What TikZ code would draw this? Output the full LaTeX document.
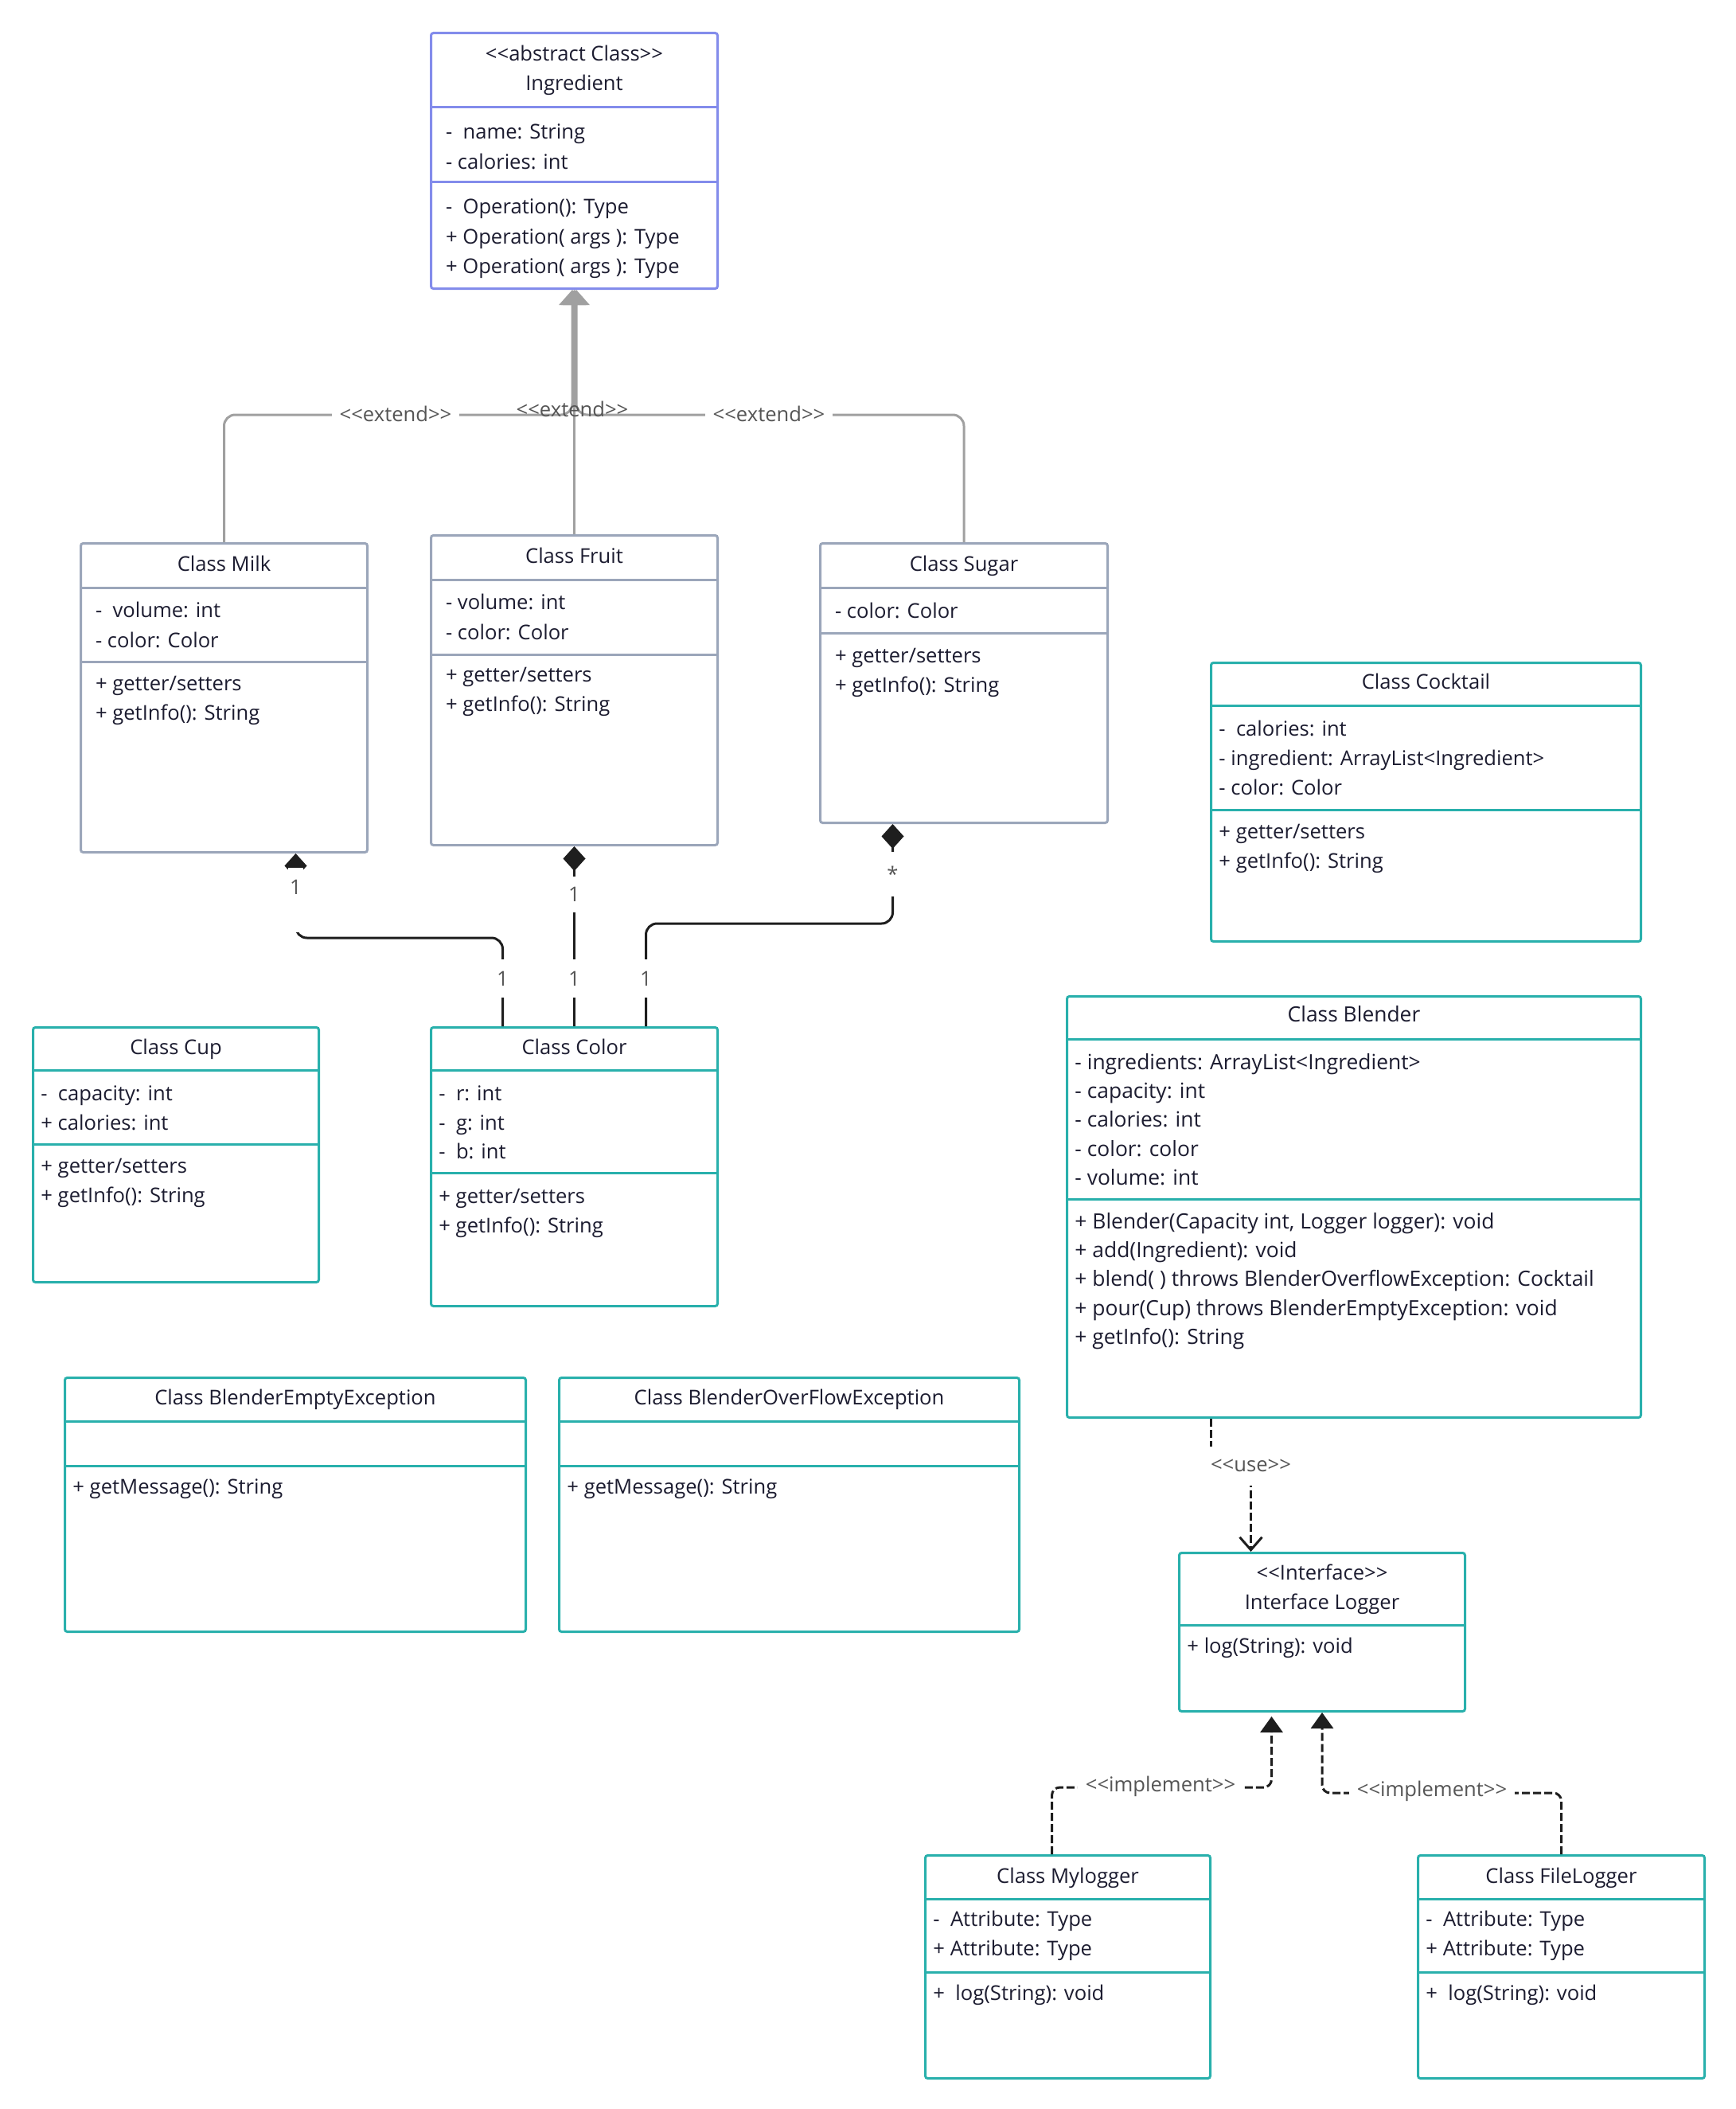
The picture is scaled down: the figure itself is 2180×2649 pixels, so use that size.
\documentclass[tikz,border=0pt]{standalone}
\usepackage{fontspec}
\setmainfont{Open Sans}[Ligatures=TeXOff]
\usepackage{xcolor}
\usepackage{tikz}
\usetikzlibrary{arrows.meta,calc}
\definecolor{ingrBlue}{HTML}{838CEB}
\definecolor{milkGrey}{HTML}{9BA6BA}
\definecolor{cupTeal}{HTML}{29B0AC}
\definecolor{extGrey}{HTML}{A0A0A0}
\definecolor{textNavy}{HTML}{1C1C30}
\definecolor{labelGrey}{HTML}{555555}
\definecolor{lineBlack}{HTML}{1E1E1E}
\tikzstyle{block} = [rectangle, draw, anchor = north west, line width = 1.5pt, rounded corners = 1.5pt, fill = white]
\tikzstyle{blockIngr} = [block, draw = ingrBlue]
\tikzstyle{blockGrey} = [block, draw = milkGrey]
\tikzstyle{blockTeal} = [block, draw = cupTeal]
\tikzstyle{divIngr} = [draw = ingrBlue, line width = 1.5pt]
\tikzstyle{divGrey} = [draw = milkGrey, line width = 1.5pt]
\tikzstyle{divTeal} = [draw = cupTeal, line width = 1.5pt]
\tikzstyle{header} = [text = textNavy, align = center, text height = 9.5pt, text depth = 2.7pt, font = \fontsize{12.8}{18.5}\selectfont]
\tikzstyle{headerTwo} = [text = textNavy, align = center, font = \fontsize{12.8}{18.5}\selectfont]
\tikzstyle{member} = [text = textNavy, anchor = west, align = left, xshift = 2.2pt, font = \fontsize{12.8}{18.3}\selectfont]
\tikzstyle{memberWide} = [text = textNavy, anchor = west, align = left, xshift = 6.5pt, font = \fontsize{12.8}{18.8}\selectfont]
\tikzstyle{extline} = [draw = extGrey, line width = 1.5pt, rounded corners = 7pt, -{Triangle[length = 9.5pt, width = 16.5pt]}]
\tikzstyle{compline} = [draw = lineBlack, line width = 1.5pt, rounded corners = 7pt, {Diamond[length = 15.5pt, width = 14pt]}-]
\tikzstyle{useline} = [draw = lineBlack, line width = 1.5pt, dash pattern = on 5pt off 2pt, -{Straight Barb[length = 8pt, width = 14pt]}]
\tikzstyle{implline} = [draw = lineBlack, line width = 1.5pt, dash pattern = on 5pt off 2pt, rounded corners = 5pt, -{Triangle[length = 10pt, width = 14pt]}]
\tikzstyle{relLabel} = [fill = white, text = labelGrey, font = \fontsize{12.8}{15}\selectfont]
\tikzstyle{multLabel} = [relLabel, inner sep = 1pt]
\begin{document}
\begin{tikzpicture}[x = 0.5pt, y = -0.5pt]
        \path[use as bounding box, fill = white] (0,0) rectangle (2180,2649);
        % class boxes
        \node(ingr) [blockIngr, minimum width = 180pt, minimum height = 160.5pt] at (540,40) {};
        \node(milk) [blockGrey, minimum width = 180pt, minimum height = 194pt] at (100,681) {};
        \node(fruit) [blockGrey, minimum width = 180pt, minimum height = 194.5pt] at (540,671) {};
        \node(sugar) [blockGrey, minimum width = 180.5pt, minimum height = 175.5pt] at (1029,681) {};
        \node(cocktail) [blockTeal, minimum width = 270pt, minimum height = 175pt] at (1520,831) {};
        \node(blender) [blockTeal, minimum width = 360.5pt, minimum height = 264.5pt] at (1339,1250) {};
        \node(cup) [blockTeal, minimum width = 179.5pt, minimum height = 160pt] at (40,1289) {};
        \node(color) [blockTeal, minimum width = 180pt, minimum height = 175pt] at (540,1289) {};
        \node(emptyEx) [blockTeal, minimum width = 289.5pt, minimum height = 159.5pt] at (80,1729) {};
        \node(overEx) [blockTeal, minimum width = 289pt, minimum height = 159.5pt] at (701,1729) {};
        \node(logger) [blockTeal, minimum width = 179.5pt, minimum height = 99.5pt] at (1480,1949) {};
        \node(myLogger) [blockTeal, minimum width = 179pt, minimum height = 140pt] at (1161,2329) {};
        \node(fileLogger) [blockTeal, minimum width = 180pt, minimum height = 140pt] at (1780,2329) {};
        % compartments
        \draw[divIngr] (ingr.west |- 0,135) -- (ingr.east |- 0,135);
        \draw[divIngr] (ingr.west |- 0,229) -- (ingr.east |- 0,229);
        \draw[divGrey] (milk.west |- 0,738) -- (milk.east |- 0,738);
        \draw[divGrey] (milk.west |- 0,831) -- (milk.east |- 0,831);
        \draw[divGrey] (fruit.west |- 0,728) -- (fruit.east |- 0,728);
        \draw[divGrey] (fruit.west |- 0,822) -- (fruit.east |- 0,822);
        \draw[divGrey] (sugar.west |- 0,738) -- (sugar.east |- 0,738);
        \draw[divGrey] (sugar.west |- 0,795) -- (sugar.east |- 0,795);
        \draw[divTeal] (cocktail.west |- 0,886) -- (cocktail.east |- 0,886);
        \draw[divTeal] (cocktail.west |- 0,1017) -- (cocktail.east |- 0,1017);
        \draw[divTeal] (blender.west |- 0,1305) -- (blender.east |- 0,1305);
        \draw[divTeal] (blender.west |- 0,1506) -- (blender.east |- 0,1506);
        \draw[divTeal] (cup.west |- 0,1344) -- (cup.east |- 0,1344);
        \draw[divTeal] (cup.west |- 0,1437) -- (cup.east |- 0,1437);
        \draw[divTeal] (color.west |- 0,1344) -- (color.east |- 0,1344);
        \draw[divTeal] (color.west |- 0,1473) -- (color.east |- 0,1473);
        \draw[divTeal] (emptyEx.west |- 0,1785) -- (emptyEx.east |- 0,1785);
        \draw[divTeal] (emptyEx.west |- 0,1841) -- (emptyEx.east |- 0,1841);
        \draw[divTeal] (overEx.west |- 0,1785) -- (overEx.east |- 0,1785);
        \draw[divTeal] (overEx.west |- 0,1841) -- (overEx.east |- 0,1841);
        \draw[divTeal] (logger.west |- 0,2041) -- (logger.east |- 0,2041);
        \draw[divTeal] (myLogger.west |- 0,2385) -- (myLogger.east |- 0,2385);
        \draw[divTeal] (myLogger.west |- 0,2477) -- (myLogger.east |- 0,2477);
        \draw[divTeal] (fileLogger.west |- 0,2385) -- (fileLogger.east |- 0,2385);
        \draw[divTeal] (fileLogger.west |- 0,2477) -- (fileLogger.east |- 0,2477);
        % texts
        \node(ingrHead) [headerTwo] at (ingr.north |- 0,88.5) {<<abstract Class>>\\Ingredient};
        \node(ingrAttr) [memberWide] at (ingr.west |- 0,184) {-\ \ name: String\\- calories: int};
        \node(ingrOps) [memberWide] at (ingr.west |- 0,300) {-\ \ Operation(): Type\\+ Operation( args ): Type\\+ Operation( args ): Type};
        \node(milkHead) [header] at (milk.north |- 0,711) {Class Milk};
        \node(milkAttr) [memberWide] at (milk.west |- 0,785) {-\ \ volume: int\\- color: Color};
        \node(milkOps) [memberWide] at (milk.west |- 0,880) {+ getter/setters\\+ getInfo(): String};
        \node(fruitHead) [header] at (fruit.north |- 0,701) {Class Fruit};
        \node(fruitAttr) [memberWide] at (fruit.west |- 0,775) {- volume: int\\- color: Color};
        \node(fruitOps) [memberWide] at (fruit.west |- 0,869) {+ getter/setters\\+ getInfo(): String};
        \node(sugarHead) [header] at (sugar.north |- 0,711) {Class Sugar};
        \node(sugarAttr) [memberWide] at (sugar.west |- 0,767) {- color: Color};
        \node(sugarOps) [memberWide] at (sugar.west |- 0,845) {+ getter/setters\\+ getInfo(): String};
        \node(cocktailHead) [header] at (cocktail.north |- 0,859) {Class Cocktail};
        \node(cocktailAttr) [member] at (cocktail.west |- 0,952) {-\ \ calories: int\\- ingredient: ArrayList<Ingredient>\\- color: Color};
        \node(cocktailOps) [member] at (cocktail.west |- 0,1066) {+ getter/setters\\+ getInfo(): String};
        \node(blenderHead) [header, font = \fontsize{13.2}{18.2}\selectfont] at (blender.north |- 0,1277) {Class Blender};
        \node(blenderAttr) [member, font = \fontsize{13.2}{18.2}\selectfont] at (blender.west |- 0,1406) {- ingredients: ArrayList<Ingredient>\\- capacity: int\\- calories: int\\- color: color\\- volume: int};
        \node(blenderOps) [member, font = \fontsize{13.2}{18.2}\selectfont] at (blender.west |- 0,1609) {+ Blender(Capacity int, Logger logger): void\\+ add(Ingredient): void\\+ blend( ) throws BlenderOverflowException: Cocktail\\+ pour(Cup) throws BlenderEmptyException: void\\+ getInfo(): String};
        \node(cupHead) [header] at (cup.north |- 0,1318) {Class Cup};
        \node(cupAttr) [member] at (cup.west |- 0,1392) {-\ \ capacity: int\\+ calories: int};
        \node(cupOps) [member] at (cup.west |- 0,1486) {+ getter/setters\\+ getInfo(): String};
        \node(colorHead) [header] at (color.north |- 0,1318) {Class Color};
        \node(colorAttr) [member] at (color.west |- 0,1410) {-\ \ r: int\\-\ \ g: int\\-\ \ b: int};
        \node(colorOps) [member] at (color.west |- 0,1524) {+ getter/setters\\+ getInfo(): String};
        \node(emptyExHead) [header] at (emptyEx.north |- 0,1758) {Class BlenderEmptyException};
        \node(emptyExOps) [member] at (emptyEx.west |- 0,1870) {+ getMessage(): String};
        \node(overExHead) [header] at (overEx.north |- 0,1758) {Class BlenderOverFlowException};
        \node(overExOps) [member] at (overEx.west |- 0,1870) {+ getMessage(): String};
        \node(loggerHead) [headerTwo] at (logger.north |- 0,1996) {<<Interface>>\\Interface Logger};
        \node(loggerOps) [member] at (logger.west |- 0,2070) {+ log(String): void};
        \node(myLoggerHead) [header] at (myLogger.north |- 0,2359) {Class Mylogger};
        \node(myLoggerAttr) [member] at (myLogger.west |- 0,2431.5) {-\ \ Attribute: Type\\+ Attribute: Type};
        \node(myLoggerOps) [member] at (myLogger.west |- 0,2506) {+\ \ log(String): void};
        \node(fileLoggerHead) [header] at (fileLogger.north |- 0,2359) {Class FileLogger};
        \node(fileLoggerAttr) [member] at (fileLogger.west |- 0,2431.5) {-\ \ Attribute: Type\\+ Attribute: Type};
        \node(fileLoggerOps) [member] at (fileLogger.west |- 0,2506) {+\ \ log(String): void};
        % extend
        \coordinate(hub) at (ingr.south |- 0,521);
        \draw[extline] (milk.north) |- ($(hub)+(-2.5,0)$) -- ($(ingr.south)+(-2.5,0)$);
        \draw[extline] (sugar.north) |- ($(hub)+(2.5,0)$) -- ($(ingr.south)+(2.5,0)$);
        \draw[extline] (fruit.north) -- (ingr.south);
        \node(extMilk) [relLabel, inner xsep = 5pt] at (497,520) {<<extend>>};
        \node(extFruit) [relLabel, fill = none] at (719,514) {<<extend>>};
        \node(extSugar) [relLabel, inner xsep = 5pt] at (966,520) {<<extend>>};
        % composition
        \draw[compline] ($(milk.south)+(90,0)$) |- ($(color.north)+(-90,-111)$) -- ($(color.north)+(-90,0)$);
        \draw[compline] (fruit.south) -- (color.north);
        \draw[compline] ($(sugar.south)+(-89.5,0)$) |- ($(color.north)+(90,-129)$) -- ($(color.north)+(90,0)$);
        \node(milkMult) [multLabel, anchor = north, inner ysep = 0pt, text height = 16.5pt, text depth = 24pt] at ($(milk.south)+(90,18)$) {1};
        \node(fruitMult) [multLabel, minimum height = 22.5pt] at ($(fruit.south)+(0,60)$) {1};
        \node(sugarMult) [multLabel, minimum height = 28pt] at ($(sugar.south)+(-89.5,63)$) {*};
        \node(colorMultA) [multLabel, minimum height = 24pt] at ($(color.north)+(-90,-60)$) {1};
        \node(colorMultB) [multLabel, minimum height = 24pt] at ($(color.north)+(0,-60)$) {1};
        \node(colorMultC) [multLabel, minimum height = 24pt] at ($(color.north)+(90,-60)$) {1};
        % use
        \draw[useline] ($(blender.south)+(-179.5,0)$) |- ($(logger.north)+(-89.5,-108)$) -- ($(logger.north)+(-89.5,0)$);
        \node(useLabel) [relLabel, minimum width = 62pt, minimum height = 24.5pt] at ($(logger.north)+(-89.5,-108)$) {<<use>>};
        % implement
        \draw[implline, shorten > = 2.5pt] ($(myLogger.north)+(-20,0)$) |- ($(logger.south)+(-63.5,94)$) -- ($(logger.south)+(-63.5,0)$);
        \draw[implline] (fileLogger.north) |- ($(logger.south)+(0,101)$) -- (logger.south);
        \node(implLeft) [relLabel, inner xsep = 5pt] at (1458,2244) {<<implement>>};
        \node(implRight) [relLabel, inner xsep = 5pt] at (1799,2250) {<<implement>>};
    \end{tikzpicture}
\end{document}
